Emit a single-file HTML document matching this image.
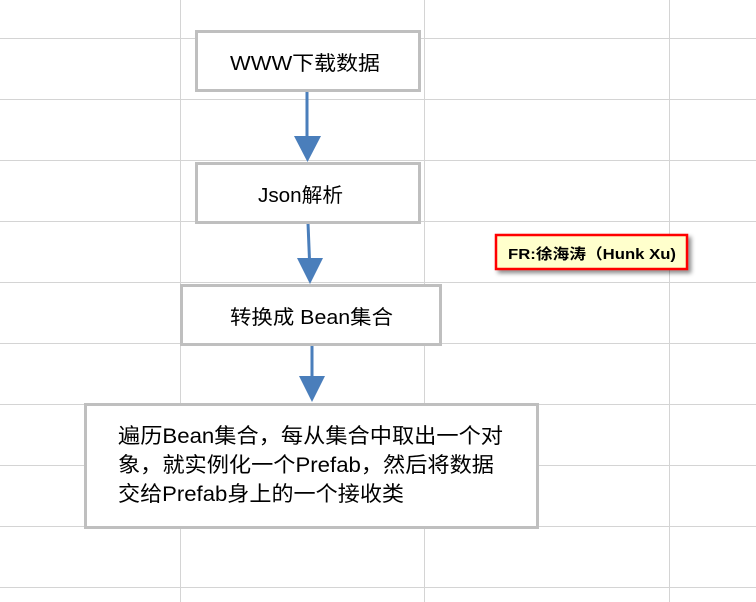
<!DOCTYPE html>
<html><head><meta charset="utf-8"><style>
html,body{margin:0;padding:0;background:#fff;}
svg{display:block;}
text{font-family:"Liberation Sans","Noto Sans CJK SC",sans-serif;fill:#000;}
</style></head><body>
<svg width="756" height="602" viewBox="0 0 756 602" xmlns="http://www.w3.org/2000/svg">
<defs><filter id="sh" x="-10%" y="-20%" width="130%" height="160%"><feDropShadow dx="3" dy="3" stdDeviation="2" flood-color="#000" flood-opacity="0.45"/></filter></defs>
<g stroke="#d4d4d4" stroke-width="1">
<line x1="180.5" y1="0" x2="180.5" y2="602"/>
<line x1="424.5" y1="0" x2="424.5" y2="602"/>
<line x1="669.5" y1="0" x2="669.5" y2="602"/>
<line x1="0" y1="38.5" x2="756" y2="38.5"/>
<line x1="0" y1="99.5" x2="756" y2="99.5"/>
<line x1="0" y1="160.5" x2="756" y2="160.5"/>
<line x1="0" y1="221.5" x2="756" y2="221.5"/>
<line x1="0" y1="282.5" x2="756" y2="282.5"/>
<line x1="0" y1="343.5" x2="756" y2="343.5"/>
<line x1="0" y1="404.5" x2="756" y2="404.5"/>
<line x1="0" y1="465.5" x2="756" y2="465.5"/>
<line x1="0" y1="526.5" x2="756" y2="526.5"/>
<line x1="0" y1="587.5" x2="756" y2="587.5"/>
</g>
<!-- arrows -->
<g stroke="#4a7ebb" stroke-width="3" fill="none">
<line x1="307" y1="91" x2="307" y2="137"/>
<line x1="308" y1="223" x2="309.5" y2="260"/>
<line x1="312" y1="345" x2="312" y2="377"/>
</g>
<g fill="#4a7ebb">
<polygon points="294,136 321,136 307.5,162"/>
<polygon points="297,258 323,258 310,284"/>
<polygon points="299,376 325,376 312,402"/>
</g>
<g fill="#fff" stroke="#bfbfbf" stroke-width="3">
<rect x="196.5" y="31.5" width="223" height="59"/>
<rect x="196.5" y="163.5" width="223" height="59"/>
<rect x="181.5" y="285.5" width="259" height="59"/>
<rect x="85.5" y="404.5" width="452" height="123"/>
</g>
<text x="230" y="70" font-size="20" textLength="150" lengthAdjust="spacingAndGlyphs">WWW下载数据</text>
<text x="258" y="202" font-size="20" textLength="85" lengthAdjust="spacingAndGlyphs">Json解析</text>
<text x="230" y="324" font-size="20" textLength="163" lengthAdjust="spacingAndGlyphs">转换成 Bean集合</text>
<text x="118" y="443" font-size="21" textLength="385" lengthAdjust="spacingAndGlyphs">遍历Bean集合，每从集合中取出一个对</text>
<text x="118" y="472" font-size="21" textLength="376" lengthAdjust="spacingAndGlyphs">象，就实例化一个Prefab，然后将数据</text>
<text x="118" y="501" font-size="21" textLength="286" lengthAdjust="spacingAndGlyphs">交给Prefab身上的一个接收类</text>
<rect x="496" y="235" width="191" height="34" fill="#ffffcc" stroke="#ff0000" stroke-width="2.5" filter="url(#sh)"/>
<text x="508" y="259" font-size="15" font-weight="bold" textLength="168" lengthAdjust="spacingAndGlyphs">FR:徐海涛（Hunk Xu)</text>
</svg>
</body></html>
